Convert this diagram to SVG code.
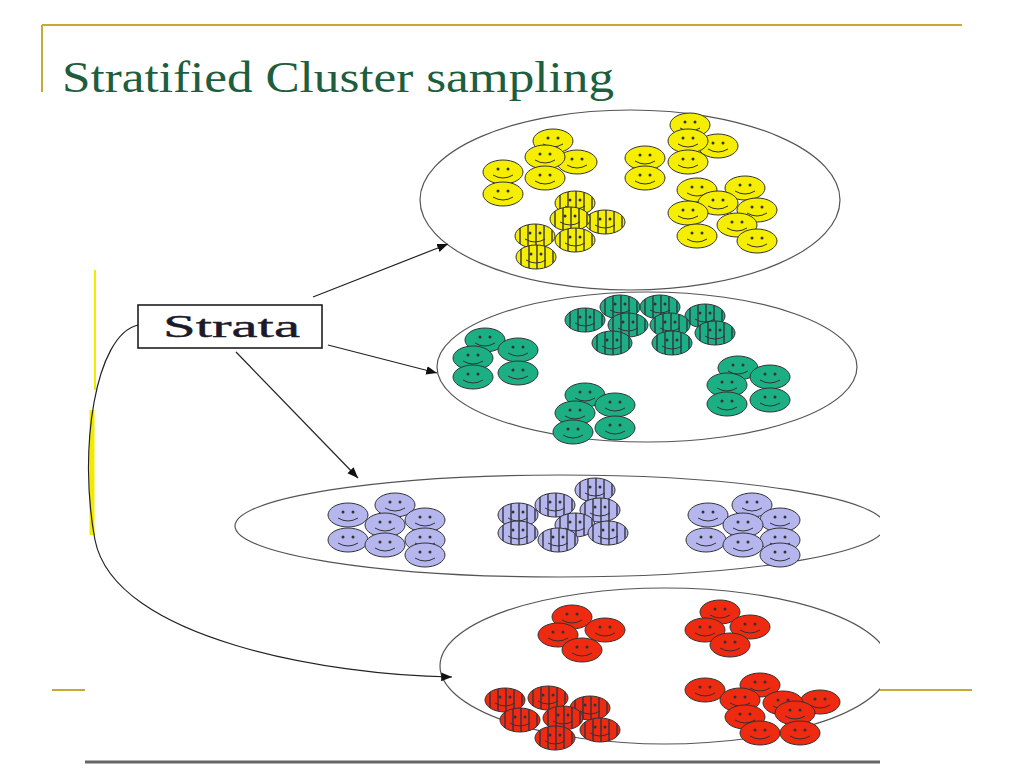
<svg xmlns="http://www.w3.org/2000/svg" xmlns:xlink="http://www.w3.org/1999/xlink" width="1024" height="768" viewBox="0 0 1024 768">
<defs>
<style>
.deco{stroke:#C9A83A;stroke-width:2;fill:none}
.ell{fill:#fff;stroke:#555;stroke-width:1.2}
.con{stroke:#222;stroke-width:1.2;fill:none;marker-end:url(#ah)}
.f{stroke:#333;stroke-width:1}
.y{fill:#F5EE00}.g{fill:#1DAF84}.b{fill:#B5B6EE}.r{fill:#EE2A10}
</style>
<marker id="ah" viewBox="0 0 10 10" refX="10" refY="5" markerWidth="9" markerHeight="9" orient="auto"><path d="M0,1 L10,5 L0,9 z" fill="#111"/></marker>
<pattern id="st" width="8" height="10" patternUnits="userSpaceOnUse"><rect x="0" y="0" width="2" height="10" fill="#334"/></pattern>
<g id="face"><ellipse rx="20" ry="12" class="f"/><circle cx="-5" cy="-3" r="1.5" fill="#333"/><circle cx="5" cy="-3" r="1.5" fill="#333"/><path d="M-10,3 Q0,9 10,3" stroke="#333" fill="none"/></g>
<g id="sface"><use xlink:href="#face"/><ellipse rx="20" ry="12" fill="url(#st)" opacity="0.7"/></g>
<clipPath id="cl"><rect x="0" y="100" width="880" height="668"/></clipPath>
</defs>
<rect width="1024" height="768" fill="#fff"/>
<line class="deco" x1="42" y1="25" x2="962" y2="25"/>
<line class="deco" x1="42" y1="25" x2="42" y2="92"/>
<line class="deco" x1="52" y1="690" x2="85" y2="690"/>
<line class="deco" x1="880" y1="690" x2="972" y2="690"/>
<text x="62" y="92" font-family="Liberation Serif, serif" font-size="44" fill="#1E5E3E" textLength="552" lengthAdjust="spacingAndGlyphs">Stratified Cluster sampling</text>
<line x1="95" y1="270" x2="95" y2="390" stroke="#F2EA00" stroke-width="2"/>
<line x1="92" y1="410" x2="92" y2="535" stroke="#F2EA00" stroke-width="5"/>
<line x1="85" y1="762" x2="880" y2="762" stroke="#666" stroke-width="3"/>
<g clip-path="url(#cl)">
<g id="stratum1"><ellipse class="ell" cx="630" cy="200" rx="210" ry="90"/>
<g class="y">
<use xlink:href="#face" x="553" y="141"/><use xlink:href="#face" x="577" y="162"/><use xlink:href="#face" x="545" y="157"/><use xlink:href="#face" x="503" y="172"/><use xlink:href="#face" x="545" y="178"/><use xlink:href="#face" x="503" y="194"/>
<use xlink:href="#face" x="690" y="125"/><use xlink:href="#face" x="718" y="146"/><use xlink:href="#face" x="688" y="141"/><use xlink:href="#face" x="645" y="158"/><use xlink:href="#face" x="688" y="162"/><use xlink:href="#face" x="645" y="178"/>
<use xlink:href="#face" x="697" y="190"/><use xlink:href="#face" x="745" y="188"/><use xlink:href="#face" x="718" y="203"/><use xlink:href="#face" x="757" y="210"/><use xlink:href="#face" x="688" y="213"/><use xlink:href="#face" x="737" y="225"/><use xlink:href="#face" x="697" y="236"/><use xlink:href="#face" x="757" y="241"/>
<use xlink:href="#sface" x="575" y="203"/><use xlink:href="#sface" x="605" y="222"/><use xlink:href="#sface" x="570" y="219"/><use xlink:href="#sface" x="535" y="236"/><use xlink:href="#sface" x="575" y="240"/><use xlink:href="#sface" x="536" y="257"/>
</g></g>
<g id="stratum2"><ellipse class="ell" cx="647" cy="367" rx="210" ry="75"/>
<g class="g">
<use xlink:href="#face" x="485" y="340"/><use xlink:href="#face" x="518" y="350"/><use xlink:href="#face" x="473" y="358"/><use xlink:href="#face" x="518" y="373"/><use xlink:href="#face" x="473" y="377"/>
<use xlink:href="#sface" x="620" y="307"/><use xlink:href="#sface" x="660" y="307"/><use xlink:href="#sface" x="705" y="316"/><use xlink:href="#sface" x="585" y="320"/><use xlink:href="#sface" x="628" y="325"/><use xlink:href="#sface" x="670" y="325"/><use xlink:href="#sface" x="715" y="333"/><use xlink:href="#sface" x="612" y="343"/><use xlink:href="#sface" x="672" y="343"/>
<use xlink:href="#face" x="738" y="368"/><use xlink:href="#face" x="770" y="377"/><use xlink:href="#face" x="727" y="385"/><use xlink:href="#face" x="770" y="400"/><use xlink:href="#face" x="727" y="404"/>
<use xlink:href="#face" x="585" y="395"/><use xlink:href="#face" x="615" y="405"/><use xlink:href="#face" x="575" y="413"/><use xlink:href="#face" x="615" y="428"/><use xlink:href="#face" x="573" y="432"/>
</g></g>
<g id="stratum3"><ellipse class="ell" cx="560" cy="526" rx="325" ry="51"/>
<g class="b">
<use xlink:href="#face" x="395" y="505"/><use xlink:href="#face" x="348" y="515"/><use xlink:href="#face" x="425" y="520"/><use xlink:href="#face" x="385" y="525"/><use xlink:href="#face" x="348" y="540"/><use xlink:href="#face" x="425" y="540"/><use xlink:href="#face" x="385" y="545"/><use xlink:href="#face" x="425" y="555"/>
<use xlink:href="#sface" x="595" y="490"/><use xlink:href="#sface" x="555" y="505"/><use xlink:href="#sface" x="600" y="510"/><use xlink:href="#sface" x="518" y="515"/><use xlink:href="#sface" x="575" y="525"/><use xlink:href="#sface" x="608" y="533"/><use xlink:href="#sface" x="518" y="533"/><use xlink:href="#sface" x="558" y="540"/>
<use xlink:href="#face" x="752" y="505"/><use xlink:href="#face" x="708" y="515"/><use xlink:href="#face" x="780" y="520"/><use xlink:href="#face" x="743" y="525"/><use xlink:href="#face" x="706" y="540"/><use xlink:href="#face" x="780" y="540"/><use xlink:href="#face" x="743" y="545"/><use xlink:href="#face" x="780" y="555"/>
</g></g>
<g id="stratum4"><ellipse class="ell" cx="665" cy="666" rx="225" ry="78"/>
<g class="r">
<use xlink:href="#face" x="572" y="617"/><use xlink:href="#face" x="605" y="630"/><use xlink:href="#face" x="558" y="635"/><use xlink:href="#face" x="582" y="650"/>
<use xlink:href="#face" x="720" y="612"/><use xlink:href="#face" x="750" y="627"/><use xlink:href="#face" x="705" y="630"/><use xlink:href="#face" x="730" y="645"/>
<use xlink:href="#face" x="760" y="685"/><use xlink:href="#face" x="705" y="690"/><use xlink:href="#face" x="740" y="700"/><use xlink:href="#face" x="820" y="702"/><use xlink:href="#face" x="783" y="703"/><use xlink:href="#face" x="795" y="713"/><use xlink:href="#face" x="745" y="717"/><use xlink:href="#face" x="760" y="733"/><use xlink:href="#face" x="800" y="733"/>
<use xlink:href="#sface" x="548" y="698"/><use xlink:href="#sface" x="505" y="700"/><use xlink:href="#sface" x="590" y="708"/><use xlink:href="#sface" x="563" y="718"/><use xlink:href="#sface" x="520" y="720"/><use xlink:href="#sface" x="600" y="730"/><use xlink:href="#sface" x="555" y="738"/>
</g></g>
</g>
<g id="connectors">
<line class="con" x1="313" y1="297" x2="448" y2="244"/>
<line class="con" x1="328" y1="345" x2="437" y2="373"/>
<line class="con" x1="236" y1="352" x2="358" y2="478"/>
<path class="con" d="M138,325 C95,335 78,450 95,540 C115,640 330,675 452,677"/>
</g>
<g id="strata">
<rect x="138" y="305" width="184" height="43" fill="#fff" stroke="#111" stroke-width="1.5"/>
<text x="163" y="337" font-family="Liberation Serif, serif" font-size="32" fill="#1a1a2a" stroke="#1a1a2a" stroke-width="0.4" textLength="137" lengthAdjust="spacingAndGlyphs">Strata</text>
</g>
</svg>
